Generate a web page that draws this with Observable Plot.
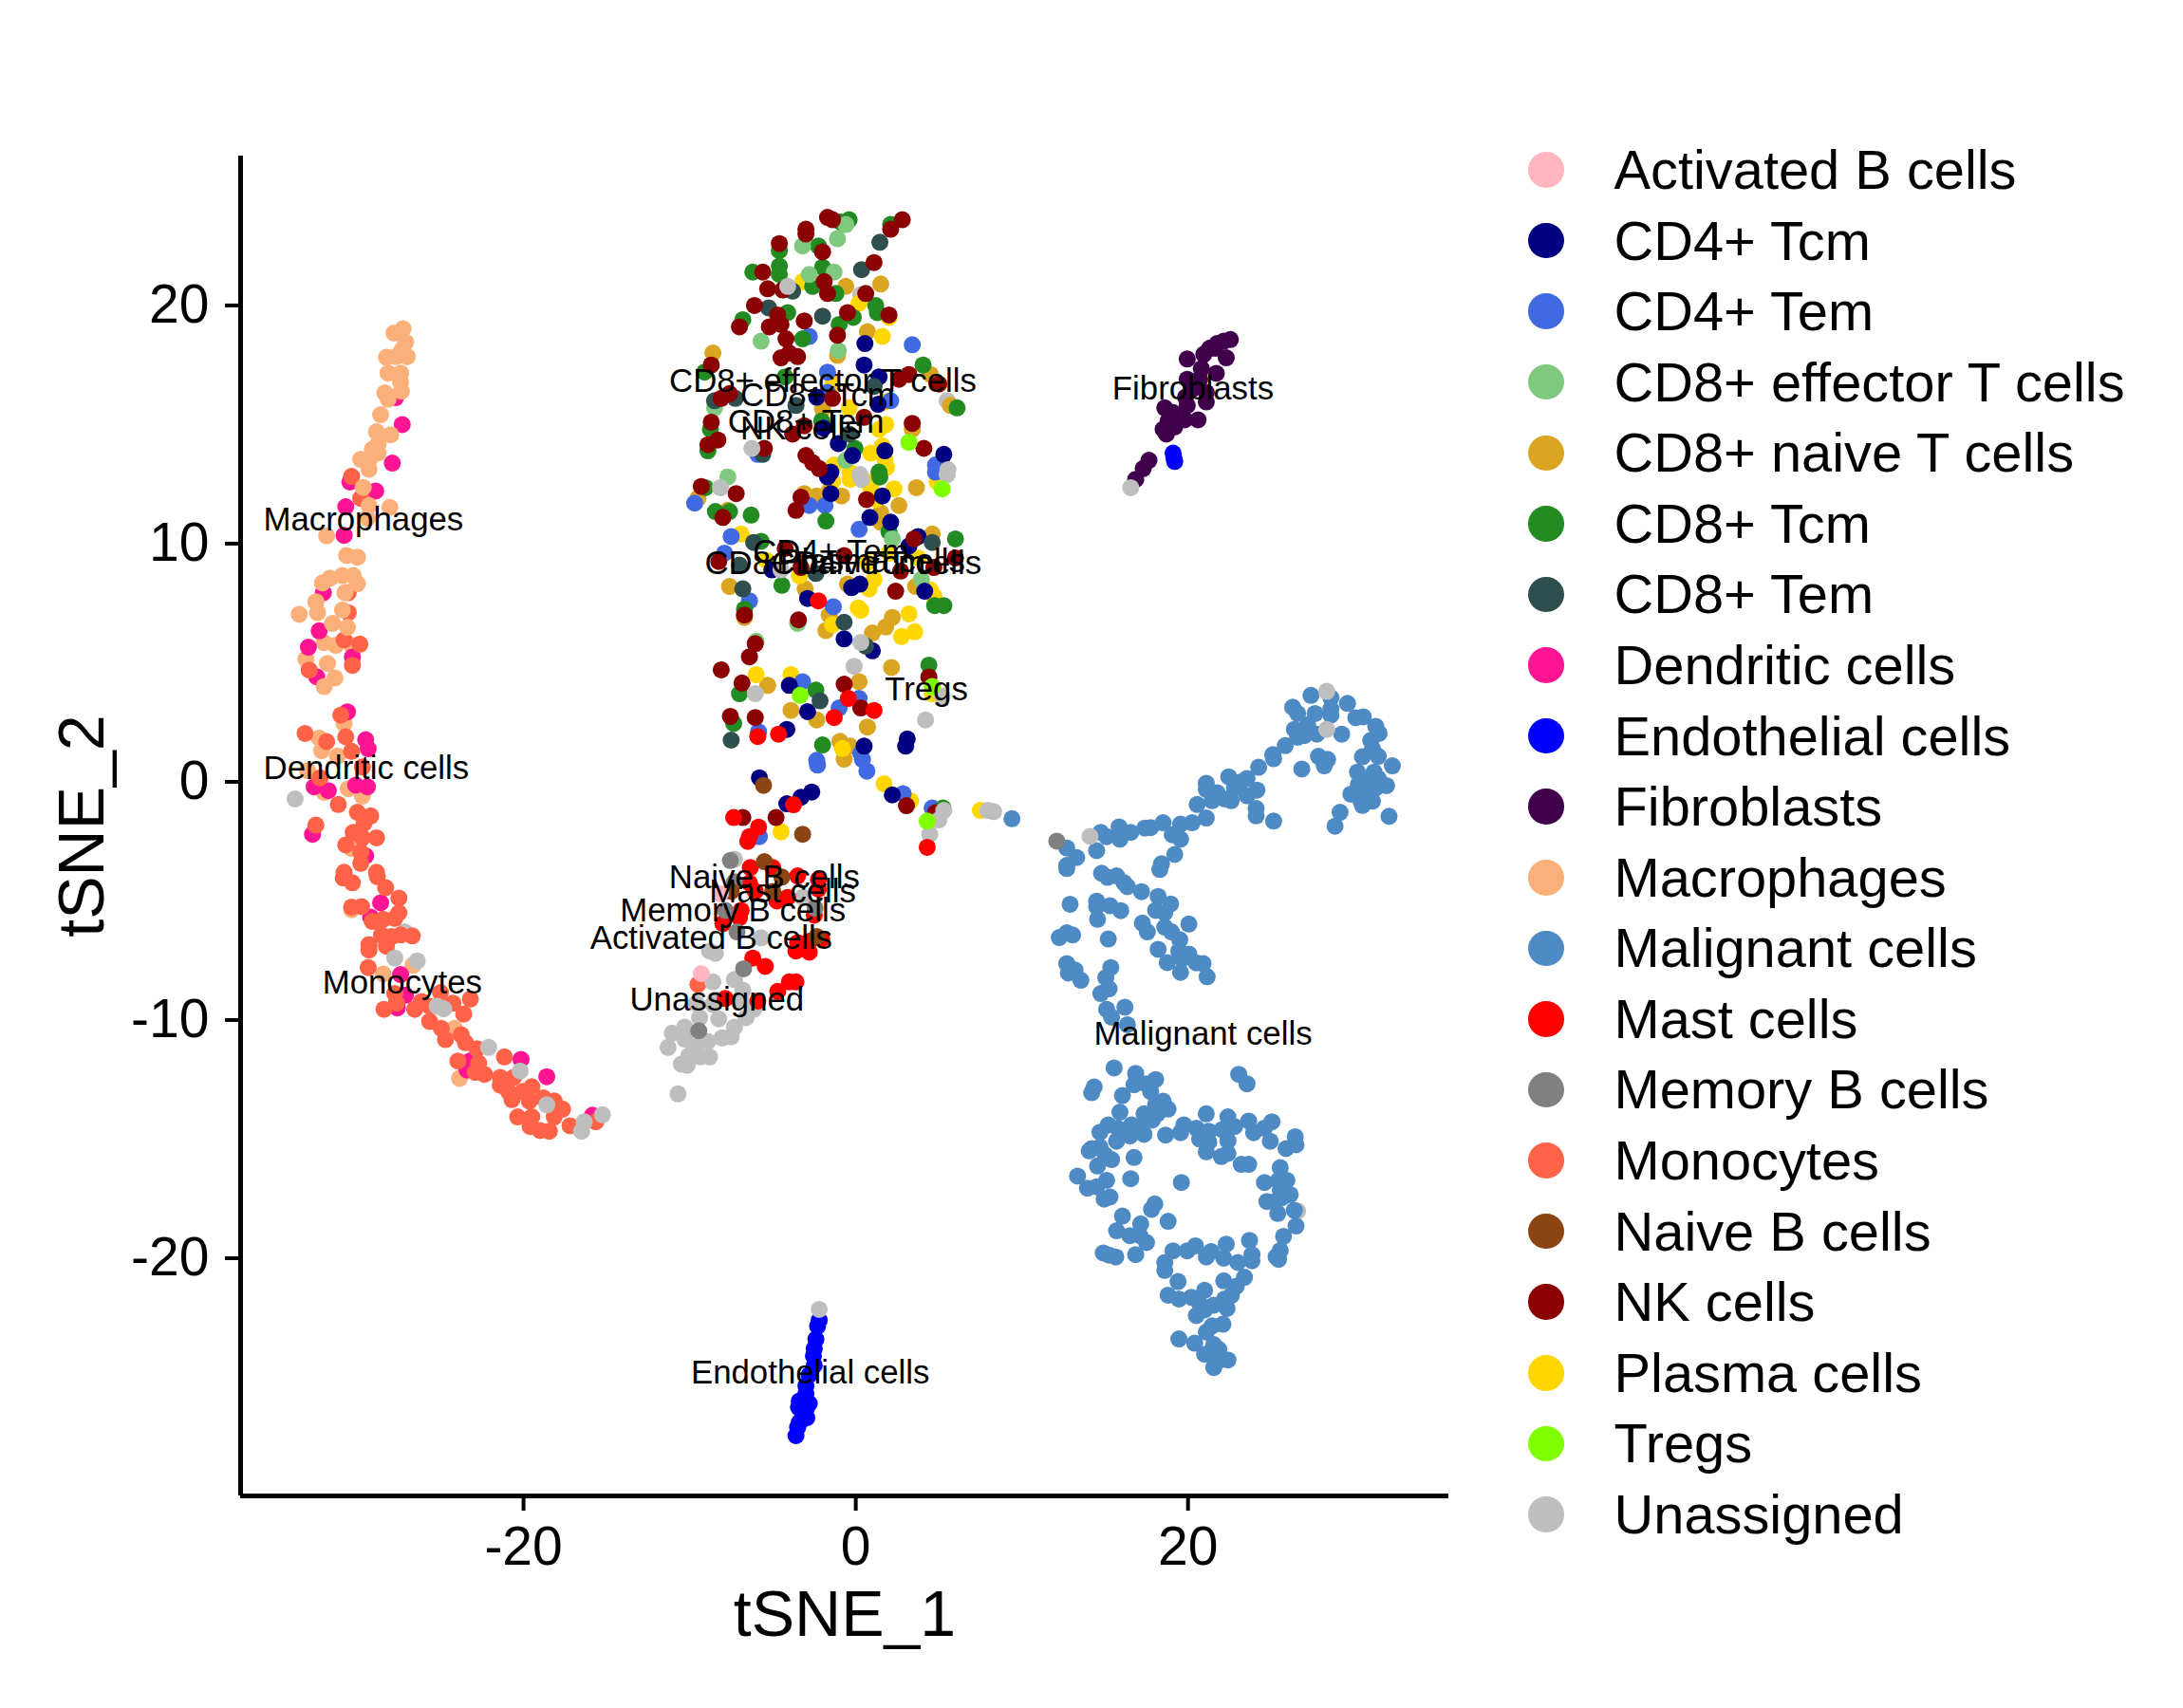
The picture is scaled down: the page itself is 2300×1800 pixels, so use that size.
<!DOCTYPE html>
<html><head><meta charset="utf-8">
<script src="https://cdn.jsdelivr.net/npm/d3@7"></script>
<script src="https://cdn.jsdelivr.net/npm/@observablehq/plot@0.6"></script>
<style>
body{margin:0;background:#fff;font-family:"Liberation Sans",Arial,sans-serif}
#wrap{position:relative;width:2300px;height:1800px}
#legend{position:absolute;left:1610px;top:141.7px}
.row{display:flex;align-items:center;height:74.58px;font-size:57.8px;color:#000;white-space:nowrap}
.swatch{width:37.5px;height:37.5px;border-radius:50%;margin-right:53px;flex:none}
g[aria-label="x-axis label"] text,g[aria-label="y-axis label"] text{font-size:68px}
</style></head><body><div id="wrap"><div id="legend"></div></div>
<script>
const cellTypes=["Activated B cells","CD4+ Tcm","CD4+ Tem","CD8+ effector T cells","CD8+ naive T cells","CD8+ Tcm","CD8+ Tem","Dendritic cells","Endothelial cells","Fibroblasts","Macrophages","Malignant cells","Mast cells","Memory B cells","Monocytes","Naive B cells","NK cells","Plasma cells","Tregs","Unassigned"];
const cellColors=["#FFB6C1","#000080","#4169E1","#7FC97F","#DAA520","#228B22","#2F4F4F","#FF1493","#0000FF","#40004B","#FBB07A","#4E8AC3","#FF0000","#808080","#FF6347","#8B4513","#8B0000","#FFD700","#7FFF00","#BEBEBE"];
const xTicks=[-20,0,20], yTicks=[-20,-10,0,10,20];
const xDomain=[-37.03,35.7], yDomain=[-29.98,26.27];

const activatedB=[[-9.3,-8.05],[-8.15,-4.7]];
const cd4Tcm=[[.55,18.4],[.5,17.5],[1.4,17],[-2.35,16.15],[1.35,15.85],[-1.95,14.85],[-1.05,14.2],[-.2,13.7],[5.3,13.75],[1.75,13.9],[-1.5,13],[-1.7,12.8],[-1.5,12.1],[1.6,12],[.85,11.1],[2.1,10.9],[3.75,10.3],[3.2,9.9],[-5.05,8.9],[-.25,8.15],[.25,8.3],[4.15,8],[-2.9,7.7],[-.7,6],[1,5.5],[-4,4.05],[-2.9,2.95],[-4.15,2.2],[3.1,1.8],[3,1.5],[.5,1.5],[-5.8,.17],[-4.15,-.92],[-3.3,-.65],[-2.65,-.43],[2.2,-.55]];
const cd4Tem=[[3.4,18.35],[-2.8,18.7],[-1.7,17.2],[-1.7,16.35],[2.1,16],[-5.9,13.75],[4.8,13.3],[4.8,13],[-9.7,11.7],[-7.5,10.3],[-7.9,9.6],[-1.85,11.6],[-2.8,11.6],[.2,10.6],[-6.4,7.6],[-1.35,7.35],[-3.2,4.2],[.2,3.5],[-1,3.1],[-5.85,2.1],[.3,1.2],[-2.35,.9],[-2.3,.7],[.4,.94],[.67,.45],[2.85,-.5],[4.6,-1.1],[-5.8,-2.3]];
const cd8Effector=[[-1.1,22.8],[-.6,23.4],[-3.2,22.5],[-2.8,21.3],[-1.3,21.4],[-5.7,18.5],[-1.05,18.1],[-8.5,15.7],[-.6,13.5],[-7.7,12.8],[2.2,10.2],[3.95,8.5],[-3.5,6.65],[-6,5.9]];
const cd8Naive=[[-8.6,18],[-.6,20.8],[1.5,20.9],[.7,18.9],[-1.1,17.9],[4.5,17.1],[5.7,15.8],[-2,15.65],[3.4,14.8],[-3.1,12.1],[-2.35,12],[-1.6,12.2],[-.85,12],[3.65,12.35],[2.6,11.6],[1.5,11.3],[1.5,10.9],[-7.7,11.4],[4.6,10.4],[-7.6,8.2],[-3.05,8.1],[-.5,8.3],[3.6,8.2],[-6.7,6.9],[-1.6,7],[-1.8,6.35],[1,6.25],[1.8,6.5],[2.2,6.9],[2.15,4.8],[.2,4.2],[-5.3,4.05],[-3.9,3],[-2.35,2.6],[.7,2.3],[-.95,1.7],[-.35,1.5],[-.7,.95],[-9.5,11.9]];
const cd8Tcm=[[-.4,23.6],[-.9,23.5],[2.1,23.4],[-4.6,22.3],[-2.25,22.5],[-6.2,21.4],[-4.6,21.65],[-4.6,21.3],[-2,21.6],[-2.6,20.8],[-1.2,20.5],[-4.1,19.7],[-6.8,19.4],[1.2,20],[1.3,19.7],[-.15,19.5],[-1,19.2],[-3.2,18.6],[4.05,17.5],[-4.25,17],[-9.1,17.2],[-8.75,14.8],[-8.9,13.9],[6.1,15.7],[-.05,14],[-2.05,15.15],[1.4,13],[-9.05,12.35],[-8.45,11.35],[-7.6,11.35],[-6.3,11.2],[1.45,12.8],[-1.8,10.95],[2,10.5],[6,10.2],[-5.7,10.1],[-4.45,8.25],[4.75,7.4],[5.3,7.4],[4.4,4.9],[-2.4,3.85],[-7,3.7],[-7.35,2.45],[-2,1.55],[-6.7,7.25],[5.25,-1.1]];
const cd8Tem=[[1.45,22.65],[.35,21.5],[-3.8,20.6],[-5.25,19.9],[-2,19.55],[-8.5,16],[-7.25,16.1],[-3.6,15.8],[1.1,16.6],[-.4,14.6],[-5.6,13.75],[-6.15,10.05],[4.6,10.05],[-7,9.1],[-2.4,8.75],[-6.8,8.1],[-.7,6.7],[.6,5.7],[-2.15,3.4],[-7.5,1.75]];
const dendritic=[[-27.7,16.13],[-27.3,15],[-27.9,13.38],[-30.45,12.59],[-28.9,12.21],[-30.7,11.55],[-30.8,10.35],[-32.05,7.94],[-32.3,6.34],[-32.95,5.65],[-30.3,5.24],[-32.45,4.41],[-30.6,2.94],[-29.5,1.77],[-29.35,1.39],[-32.6,-.21],[-31.75,-.37],[-30.1,-.14],[-29.4,-.21],[-32.7,-2.2],[-29.5,-3.11],[-28.6,-5.08],[-29.2,-5.68],[-27.4,-8.09],[-27.1,-8.96],[-27.6,-9.49],[-23.2,-11.71],[-23.4,-12.1],[-20.15,-11.65],[-18.6,-12.38],[-15.85,-14]];
const endothelial=[[19.1,13.8],[19.2,13.45],[19.15,13.6],[-2.2,-22.6],[-2.3,-22.85],[-2.4,-23.4],[-2.5,-23.8],[-2.55,-24.1],[-2.5,-24.5],[-2.8,-24.9],[-3,-25.35],[-3,-25.7],[-2.8,-26.1],[-3.4,-26],[-3.45,-26.25],[-3,-26.35],[-2.95,-26.7],[-3.4,-26.9],[-3.5,-27.1],[-3.6,-27.45],[-3.2,-26.55]];
const fibroblasts=[[22.55,18.57],[22.15,18.5],[21.75,18.4],[21.3,18.2],[20.95,17.95],[21.65,18.2],[22.3,17.8],[19.95,17.75],[20.8,17.35],[21.7,17.15],[19.95,16.9],[20.7,16.9],[21.1,16.35],[19.85,16.15],[21.1,15.95],[18.6,15.7],[19.1,15.5],[19.8,15.2],[20.6,15.2],[18.5,14.8],[19.2,14.9],[18.7,14.6],[17.65,13.5],[17.3,13.15],[16.85,12.7],[20.3,16.5],[19.95,15.8],[18.8,15.15]];
const macrophages=[[-27.25,19.02],[-27.8,18.84],[-27.1,18.46],[-27.3,18.15],[-28.25,17.82],[-27,17.85],[-27.7,17.85],[-28.15,17.16],[-27.4,17.16],[-27.4,16.78],[-27.35,16.4],[-28.35,16.33],[-28.15,16.07],[-28.6,15.41],[-28.85,14.7],[-28,14.57],[-28.75,14.19],[-29.1,13.96],[-28.75,13.81],[-29.8,13.54],[-29.3,13.5],[-29.3,13.12],[-29.65,12.36],[-29.3,11.6],[-28.05,11.52],[-29.4,11.07],[-31.85,10.33],[-30.65,9.5],[-30,9.43],[-32.1,8.35],[-31.65,8.55],[-30.9,8.66],[-30.25,8.66],[-30,8.32],[-30.75,7.94],[-32.5,7.56],[-32.4,7.1],[-33.5,7.03],[-30.9,7.21],[-31.5,6.65],[-30.6,6.49],[-31.8,4.97],[-31.35,4.36],[-32,4]];
const macrophagesBack=[[-32,5.84],[-31.3,5.73],[-30.35,5.73],[-33.1,5.15],[-30.8,2.45],[-32.3,1.84],[-32.15,1.31],[-31.2,1.08],[-33,.47],[-30.55,-.29],[-29.7,-.6],[-32,-.44],[-30.35,-2.8],[-30.35,-5.37],[-28.45,-8.07],[-26.65,-7.7],[-24.15,-10.35],[-23.85,-12.45]];
const malignant=[[9.4,-1.55],[27.4,3.63],[28.6,3.53],[29.6,3.29],[26.3,3.13],[28.6,3.06],[26.6,2.87],[27.65,2.87],[28.6,2.8],[30.1,2.69],[30.55,2.73],[31.3,2.33],[26.4,2.2],[27.2,2.4],[27,1.94],[26.6,1.87],[27.75,2],[31.5,2.03],[29.25,2],[31,1.74],[25.85,1.52],[31.1,1.4],[25.1,1.14],[25.15,.97],[27.85,1.07],[28.4,.94],[28.2,.67],[30.5,1.05],[31.45,1.07],[32.3,.67],[26.85,.54],[24.25,.61],[30.2,.41],[31.2,.41],[31.45,.14],[30.8,.14],[30.25,-.12],[31.95,-.16],[31.3,-.26],[30.7,-.46],[29.8,-.52],[30.4,-.79],[31.1,-.81],[30.5,-.99],[32.1,-1.45],[29.15,-1.28],[28.85,-1.86],[22.45,.21],[23.55,.14],[23.2,0],[21.1,-.06],[22.8,-.26],[24.15,-.35],[23.55,-.59],[21.1,-.32],[21.75,-.46],[22.2,-.72],[22.6,-.79],[21.45,-.79],[20.55,-.95],[24.1,-1.12],[24.1,-1.43],[25.15,-1.65],[21.1,-1.52],[20.25,-1.72],[19.55,-1.78],[18.5,-1.72],[17.75,-1.92],[17.4,-1.94],[16.55,-2.12],[15.85,-1.89],[14.75,-2.12],[15.1,-2.3],[15.9,-2.41],[14.5,-2.89],[19.05,-2.22],[19.55,-2.41],[19.2,-3.05],[18.4,-3.44],[18.3,-3.68],[12.7,-2.78],[13.3,-3.18],[12.7,-3.51],[12.7,-3.64],[14.8,-3.84],[15.15,-4.01],[15.7,-3.95],[16.15,-4.24],[16.35,-4.4],[17.2,-4.61],[18.2,-4.81],[18.95,-5.13],[12.9,-5.14],[14.5,-5.01],[14.5,-5.24],[15.3,-5.2],[15.95,-5.41],[14.55,-5.77],[18.05,-5.4],[18.6,-5.5],[17.25,-5.93],[17.55,-6.3],[20.05,-5.97],[18.6,-6.1],[19,-6.3],[19.5,-6.63],[12.25,-6.54],[12.7,-6.34],[13.05,-6.43],[15.2,-6.6],[18.2,-7.03],[19.45,-7.1],[20.05,-7.23],[18.75,-7.59],[19.65,-7.43],[20.5,-7.6],[20.9,-7.63],[19.55,-8],[21.15,-8.18],[12.7,-7.63],[12.8,-8.03],[13.2,-7.9],[13.55,-8.33],[15.35,-7.8],[15.05,-8.22],[15.25,-8.69],[14.75,-8.89],[15.1,-9.55],[16.2,-9.46],[15.4,-9.88],[16.35,-10.2],
[15.55,-12.01],[16.85,-12.24],[18.05,-12.5],[16.75,-12.72],[17.45,-12.68],[14.35,-12.81],[14.2,-13.05],[17.75,-13],[16.05,-13.17],[18.5,-13.41],[18.05,-13.54],[18.8,-13.74],[15.9,-13.87],[17.35,-13.94],[18.15,-13.94],[17.85,-14.2],[23.05,-12.28],[23.55,-12.68],[21.1,-13.94],[22.4,-14.07],[19.75,-14.4],[23.65,-14.24],[25.05,-14.27],[15.2,-14.4],[15.75,-14.54],[16.6,-14.4],[17.1,-14.54],[14.7,-14.71],[16.5,-14.87],[17.35,-14.8],[15.7,-15.09],[18.65,-14.83],[19.55,-14.73],[20.5,-14.54],[21.25,-14.67],[22.05,-14.6],[22.8,-14.47],[23.95,-14.73],[24.6,-14.54],[26.45,-14.9],[26.5,-15.24],[24.95,-15.09],[25.9,-15.4],[20.7,-15],[21.25,-15.13],[22.4,-15.07],[21.1,-15.53],[22.4,-15.6],[22,-15.73],[23.2,-16.06],[23.65,-16.06],[14.2,-15.4],[14.7,-15.33],[14.05,-15.49],[15,-15.66],[15.4,-15.86],[14.55,-16.13],[16.75,-15.77],[16.55,-16.66],[19.6,-16.82],[13.35,-16.55],[13.95,-17.06],[15.1,-16.73],[14.5,-17],[15.3,-17.43],[14.95,-17.52],[25.55,-16.2],[24.6,-16.82],[25.95,-16.73],[25.45,-16.73],[25.55,-17.13],[26.15,-17.33],[25.65,-17.46],[24.75,-17.62],[25.3,-17.6],[25.4,-18.12],[26.4,-17.99],[26.5,-18.65],[25.75,-19.08],[25.55,-19.68],[25.3,-19.94],[25.45,-20.05],[18,-17.72],[17.8,-17.95],[16.05,-18.23],[17.15,-18.56],[18.8,-18.45],[15.7,-18.85],[16.5,-19.05],[17.1,-19.05],[17.5,-19.34],[14.9,-19.78],[15.25,-19.87],[15.65,-19.95],[16.85,-19.85],[19.1,-19.69],[19.95,-19.69],[20.45,-19.48],[21.1,-19.95],[21.4,-19.72],[22.3,-19.41],[22.15,-20],[23.7,-19.25],[23.85,-19.85],[23.85,-20.11],[23,-20.18],[18.6,-20.18],[18.6,-20.51],[19.4,-20.98],[23.4,-20.8],[22.15,-20.95],[22.9,-21.18],[21,-21.35],[18.8,-21.55],[19.45,-21.71],[20.2,-21.64],[22.6,-21.57],[22.2,-21.71],[20.7,-21.91],[21.55,-21.97],[22.35,-22.11],[21,-22.17],[20.5,-22.41],[22.1,-22.77],[21.45,-22.84],[21.1,-23.1],[19.45,-23.39],[20.4,-23.57],[21.55,-23.63],[21.85,-23.83],[21,-24.03],[22.4,-24.27],[21.85,-24.3],[21.55,-24.59]];
const mast=[[-2.25,7.6],[-.45,3.5],[1.1,3],[-1.3,2.7],[-5.9,1.9],[-4.65,2],[-3.75,-.96],[-7.35,-1.5],[-5.85,-1.9],[-6.4,-2.3],[-6.5,-2.5],[4.3,-2.75],[-6.35,-3.6],[-5,-3.6],[-3.5,-3.95],[-6.4,-4.25],[-2.25,-4.1],[-2.25,-4.5],[-4.1,-4.85],[-4.75,-5],[-6.9,-5.4],[-7,-5.7],[-8,-5.95],[-2.5,-5.6],[-3.5,-6.75],[-2.8,-6.7],[-3.6,-7.1],[-2.8,-7.15],[-2.05,-6.6],[-6.2,-7.4],[-5.45,-7.75],[-4,-8.4],[-3.6,-8.4],[-4.7,-8.8],[-7.85,-9.1],[-5.9,-9.2],[-6.05,-4.6]];
const memoryB=[[12.1,-2.49],[-7.55,-3.3],[-7.3,-4.2],[-7.85,-5.4],[-7.15,-6.3],[-6.75,-7.85],[-9.45,-10.45],[-2.45,-5.3]];
const monocytes=[[-9.5,-8.5],[-30.35,12.82],[-29.8,11.9],[-30.55,7.94],[-30.55,7.1],[-30.8,5.96],[-29.85,5.78],[-30.3,4.89],[-32.9,4.69],[-31,2.8],[-33.15,2.03],[-31.85,1.69],[-30.7,1.89],[-30.35,1.28],[-32.25,.17],[-29.7,.62],[-31.15,-.95],[-30,-1.28],[-29.2,-1.43],[-29.6,-1.74],[-30.25,-2.12],[-28.85,-2.35],[-29.7,-2.35],[-30.7,-2.65],[-29.8,-2.96],[-29.8,-3.42],[-32.5,-1.82],[-30.8,-3.8],[-28.85,-3.8],[-30.85,-4.04],[-30.3,-4.24],[-28.8,-3.98],[-28.3,-4.44],[-27.5,-4.88],[-30.35,-5.26],[-29.75,-5.24],[-29.1,-5.86],[-28.45,-5.77],[-27.75,-5.73],[-27.5,-5.5],[-28.55,-6.43],[-27.95,-6.5],[-27.4,-6.43],[-26.7,-6.47],[-28.25,-6.9],[-29.3,-6.83],[-29.3,-7.06],[-29.35,-7.8],[-27.75,-8.89],[-27.65,-9.29],[-28.4,-9.55],[-26.55,-9.55],[-26.15,-9.22],[-25,-8.85],[-25.65,-9.42],[-25.65,-10.06],[-24.95,-10.35],[-24.7,-10.82],[-24.25,-9.29],[-23.2,-9.12],[-23.6,-9.75],[-23.75,-10.62],[-23.5,-10.95],[-22.8,-11.21],[-23.95,-11.72],[-22.7,-11.81],[-22.35,-12.28],[-22.9,-12.2],[-21.15,-11.55],[-21.4,-12.41],[-20.6,-12.41],[-21.4,-12.74],[-20.9,-13],[-20.7,-13.34],[-19.5,-12.8],[-20.05,-13],[-19.65,-13.4],[-18.8,-13.27],[-18.15,-13.4],[-17.65,-13.74],[-20.35,-14.07],[-19.5,-14.07],[-19.6,-14.47],[-19,-14.64],[-18.45,-14.67],[-18.15,-14.07],[-17.2,-14.44],[-15.65,-14.27]];
const naiveB=[[-5.55,-.15],[-3.2,-2.2],[-5.5,-3.35],[-4.45,-4],[-5,-4.6],[-7.5,-4.6],[-2.35,-6.5]];
const nk=[[-1.7,23.7],[-1.4,23.6],[2.8,23.6],[2.1,23.2],[-3,23],[-3,23.2],[-4.6,22.6],[-2,22.25],[-5.6,21.4],[-5.3,20.7],[-4.4,20.65],[-1.9,21],[-1.7,20.5],[1.1,21.8],[.6,20.5],[-6.1,20],[-.5,19.7],[-4.7,19.6],[-5.2,19.1],[-4.5,19.2],[-3.1,19.35],[-7,19.1],[-4.2,18.6],[-1.1,18.75],[-4.5,17.8],[-4,18],[-3.5,17.85],[-8.7,17.5],[2,19.6],[2.6,16.9],[3.2,17.1],[5,16.7],[-8.1,16.1],[-7.6,16.3],[-1.4,16.1],[.5,15.3],[-8.7,15.1],[-8.3,14.35],[-8.9,14.15],[3.4,15.05],[4.1,14],[-5.5,14],[-3.8,14.6],[-3,13.7],[-2.6,13.4],[-2.2,13.15],[-3.1,14.95],[-9.3,12.4],[-7.2,12.1],[-3.3,11.95],[-3.6,11.4],[.65,11.85],[-8,11.1],[-4.25,9.8],[3.5,10.2],[-3.3,9],[-8.25,9.25],[-.7,9.5],[2.7,8.85],[4.7,9],[6,9.4],[2.4,8],[-6.7,7],[-3.45,6.8],[-6.05,5.8],[-6.4,5.25],[-8.1,4.7],[-6.85,4.15],[-.7,4.1],[4.4,4.4],[.3,3.1],[-7.55,2.75],[-6.05,2.7],[-4.8,-1.5],[-6.8,-1.5],[4.8,-1.3],[3.05,-1]];
const plasma=[[-6.9,10.4],[2.3,12.3],[-.35,12.7],[.9,12.35],[1.2,11.85],[4.9,12.6],[1.1,8.5],[.8,8.1],[.15,7.3],[.3,7.2],[-1.4,6.6],[3.2,7.05],[3.55,6.3],[2.75,6.1],[4.7,7.8],[4.5,8.05],[-3.4,8.65],[-6,4.5],[-3.9,4.5],[4.6,3.7],[-.8,1.4],[-1.4,12.6],[.7,12.6],[-5.4,9.3],[2,9.6],[.7,9.2],[3.75,9.4],[-3.2,21],[.2,20.1],[2,19.5],[1.6,18.7],[-.4,15.7],[1.8,15],[1.4,14.8],[.9,13.8],[1.6,14.1],[1.75,13.55],[1.85,13.2],[-.35,13],[-1.3,13.3],[-1.4,16.7],[1.75,15.95],[1.7,-.08],[3.3,-.8],[7.5,-1.2],[-4.5,-2.1]];
const tregs=[[3.2,14.25],[5.2,12.3],[-3.35,3.63],[4.6,4],[4.3,-1.65]];
const unassignedBack=[[-27.15,-6.3],[26.6,-18.02],[-7.3,-3.25],[.3,20.45],[5.5,16]];
const unassigned=[[-4.1,20.8],[-6.25,14],[.25,12.9],[5.55,13.1],[-8.15,12.35],[.35,12.7],[5.5,12.9],[-6.05,3.7],[-4.5,8.9],[.3,5.85],[-.1,4.85],[4.2,2.6],[5.2,3.6],[5.3,-1.2],[5,-1.6],[4.45,-2.2],[8.3,-1.25],[7.95,-1.2],[16.55,12.35],[-2.2,-22.15],[14.1,-2.29],[28.35,3.8],[28.35,2.2],[-33.75,-.72],[-27.75,-7.4],[-26.4,-7.52],[-25.2,-9.42],[-24.8,-9.53],[-22.1,-11.15],[-20.2,-12.14],[-18.6,-13.56],[-16.35,-14.27],[-16.5,-14.67],[-15.25,-13.98],[-5.7,-6.55],[-3.2,-4.85],[-8.8,-7.1],[-8.45,-7.2],[-8.6,-8.4],[-7.3,-8.3],[-6.8,-8.75],[-9.6,-9.3],[-8.6,-9.35],[-8.25,-9.95],[-9.4,-9.9],[-6.6,-9.9],[-6.15,-9.55],[-7.3,-10.3],[-7.5,-10.7],[-8.05,-10.75],[-10.3,-10.3],[-11.05,-10.55],[-10.3,-10.8],[-8.9,-10.9],[-9.7,-11.1],[-11.3,-11.15],[-8.8,-11.55],[-9.35,-11.55],[-10.05,-11.5],[-10.5,-11.85],[-10.15,-11.9],[-10.7,-13.1],[-6.9,-9.15],[-8.45,-9.15]];

// Layering of the overlapping points, back to front.
const drawLayers=[
  [unassignedBack,"Unassigned"],[macrophagesBack,"Macrophages"],[cd8Naive,"CD8+ naive T cells"],[plasma,"Plasma cells"],
  [cd4Tem,"CD4+ Tem"],[cd8Tcm,"CD8+ Tcm"],[cd8Effector,"CD8+ effector T cells"],[cd4Tcm,"CD4+ Tcm"],[cd8Tem,"CD8+ Tem"],[nk,"NK cells"],
  [dendritic,"Dendritic cells"],[endothelial,"Endothelial cells"],[fibroblasts,"Fibroblasts"],[malignant,"Malignant cells"],
  [monocytes,"Monocytes"],[macrophages,"Macrophages"],[unassigned,"Unassigned"],[mast,"Mast cells"],[memoryB,"Memory B cells"],[naiveB,"Naive B cells"],[tregs,"Tregs"],[activatedB,"Activated B cells"]
];
const cells=drawLayers.flatMap(([pts,type])=>pts.map(([x,y])=>({x,y,type})));

const labelNames=["Macrophages","Dendritic cells","Monocytes","CD8+ effector T cells","CD8+ Tcm","CD8+ Tem","NK cells","CD8+ naive T cells","CD4+ Tem","CD4+ Tcm","Plasma cells","Tregs","Naive B cells","Mast cells","Memory B cells","Activated B cells","Unassigned","Malignant cells","Fibroblasts","Endothelial cells"];
const labelX=[-29.64,-29.47,-27.3,-1.98,-2.3,-3,-3.3,-.76,-1.49,-.44,1,4.25,-5.5,-4.4,-7.4,-8.7,-8.36,20.9,20.3,-2.74];
const labelY=[11.07,.62,-8.38,16.87,16.27,15.15,14.88,9.24,9.7,9.24,9.3,3.93,-3.97,-4.57,-5.37,-6.5,-9.09,-10.55,16.54,-24.76];
const labels=labelNames.map((name,i)=>({name,x:labelX[i],y:labelY[i]}));

const chart=Plot.plot({
  width:1560,height:1800,marginLeft:253,marginRight:34,marginTop:164,marginBottom:224,
  style:{fontFamily:"Liberation Sans",background:"#fff",color:"#000"},
  x:{domain:xDomain},y:{domain:yDomain},
  color:{domain:cellTypes,range:cellColors},
  marks:[
    Plot.dot(cells,{x:"x",y:"y",fill:"type",r:9}),
    Plot.text(labels,{x:"x",y:"y",text:"name",fontSize:34.8,fill:"#000",textAnchor:"middle",lineAnchor:"middle",dy:1.5}),
    Plot.ruleY([yDomain[0]],{strokeWidth:5,stroke:"#000"}),
    Plot.ruleX([xDomain[0]],{strokeWidth:5,stroke:"#000"}),
    Plot.axisX({ticks:xTicks,tickFormat:d=>String(d),tickSize:16,tickPadding:16,strokeWidth:4,fontSize:57,label:"tSNE_1",labelAnchor:"center",labelArrow:"none",labelOffset:147,stroke:"#000",fill:"#000"}),
    Plot.axisY({ticks:yTicks,tickFormat:d=>String(d),tickSize:16,tickPadding:17,strokeWidth:4,fontSize:57,label:"tSNE_2",labelAnchor:"center",labelArrow:"none",labelOffset:193,stroke:"#000",fill:"#000"})
  ]
});
document.getElementById("wrap").prepend(chart);
const legend=d3.select("#legend");
cellTypes.forEach((t,i)=>{
  const row=legend.append("div").attr("class","row");
  row.append("div").attr("class","swatch").style("background",cellColors[i]);
  row.append("span").text(t);
});
</script></body></html>
